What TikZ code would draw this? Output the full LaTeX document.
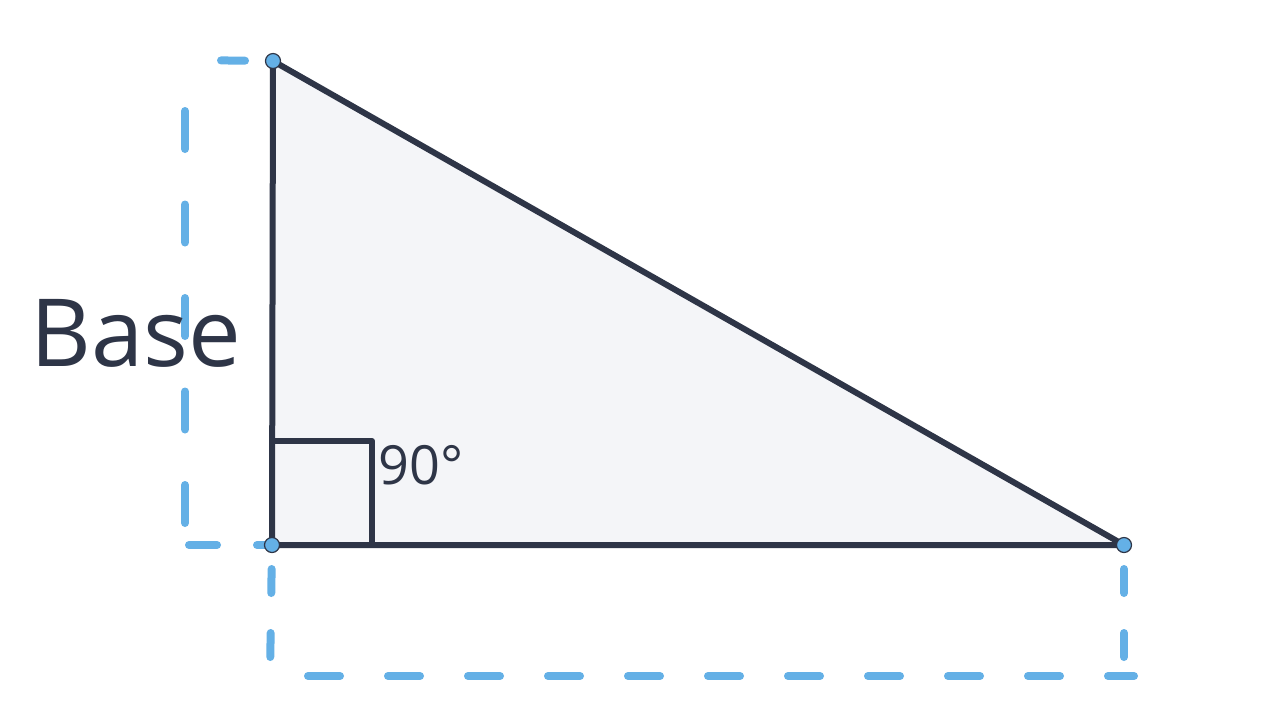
\documentclass[tikz,border=0pt]{standalone}
\usepackage{fontspec}
\setmainfont{Open Sans}
\definecolor{ink}{HTML}{2E3547}
\definecolor{guide}{HTML}{64B0E6}
\definecolor{paper}{HTML}{F4F5F8}
\tikzset{
  edge/.style={draw=ink, line width=3pt, line join=round},
  guideline/.style={draw=guide, line width=4pt, line cap=round, dash pattern=on 16pt off 24pt},
  vertex/.style={circle, fill=guide, draw=ink, line width=0.6pt, inner sep=0pt, minimum size=7.5pt},
  lbl/.style={text=ink, inner sep=0pt}
}
\begin{document}
\begin{tikzpicture}[x=0.5pt,y=-0.5pt]
\useasboundingbox[fill=white] (0,0) rectangle (1280,720);
\coordinate (A) at (273,61);
\coordinate (B) at (272,545);
\coordinate (C) at (1124,545);
\coordinate (TL) at (185,60);
\coordinate (TLv) at (185,111);
\coordinate (BLv) at (185,523);
\coordinate (BL) at (185,545);
\coordinate (BB) at (270,676);
\coordinate (BR) at (1124,676);
\coordinate (BRx) at (1134,676);
\coordinate (Sq1) at (273,441);
\coordinate (Sq2) at (372,441);
\coordinate (Sq3) at (372,545);
% guides
\draw[guideline, dash pattern=on 12pt off 28pt, dash phase=26pt] (A) -- (TL);
\draw[guideline, dash pattern=on 19pt off 27.75pt] (TLv) -- (BLv);
\draw[guideline, dash pattern=on 14pt off 20pt, dash phase=-2pt] (BL) -- (B);
\draw[guideline, dash pattern=on 12pt off 20pt, dash phase=20pt] (B) -- (BB);
\draw[guideline, dash phase=21pt] (BB) -- (BRx);
\draw[guideline, dash pattern=on 12pt off 20pt, dash phase=20pt] (C) -- (BR);
% triangle
\fill[paper] (A) -- (B) -- (C) -- cycle;
\draw[edge] (Sq1) -- (Sq2) -- (Sq3);
\draw[edge] (A) -- (B) -- (C) -- cycle;
% vertices
\node[vertex] (vA) at (A) {};
\node[vertex] (vB) at (B) {};
\node[vertex] (vC) at (C) {};
% labels
\node[lbl, font=\fontsize{47}{50}\selectfont, anchor=base] (base) at (136,366) {Base};
\node[lbl, font=\fontsize{27}{30}\selectfont, anchor=base west] (ang) at (378,484) {90°};
\end{tikzpicture}
\end{document}
